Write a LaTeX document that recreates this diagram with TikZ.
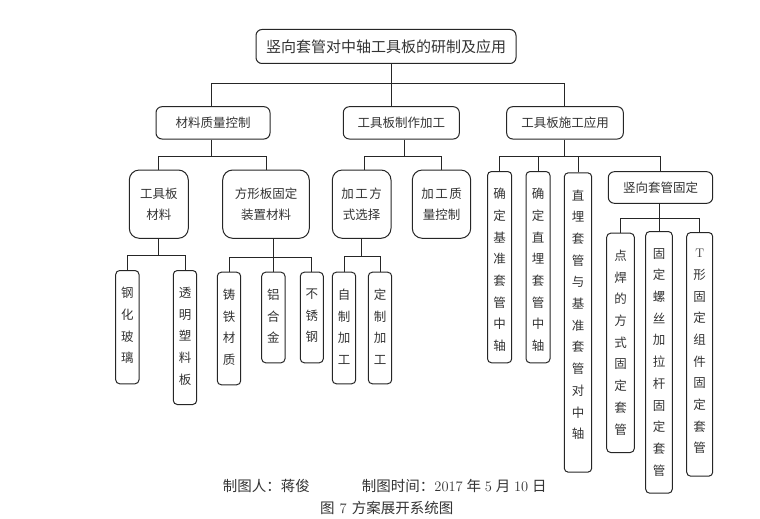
\documentclass[tikz,border=0pt]{standalone}
\usepackage{fontspec}
\newfontfamily\cjk{Noto Sans CJK SC}
\newcommand\capgap{\hspace{5pt}}
\newcommand\capgapb{\hspace{3.8pt}}
\begin{document}
\begin{tikzpicture}[x=1pt,y=-1pt,
  every node/.style={inner sep=0pt, text=black!80},
  sz/.style 2 args={minimum width=#1pt, minimum height=#2pt},
  box/.style={draw=black!85, line width=1pt, rounded corners=#1, align=center,
    font=\cjk\fontsize{12.5}{21}\selectfont},
  box/.default=6pt,
  link/.style={draw=black!85, line width=1pt},
  vbox/.style={draw=black!85, line width=1pt, rounded corners=4pt, anchor=north},
  vtext/.style={anchor=north, yshift=-17pt, align=center,
    font=\cjk\fontsize{12.5}{21.7}\selectfont},
  captxt/.style={anchor=west, font=\cjk\fontsize{14.5}{16}\selectfont}
]
\useasboundingbox (0,0) rectangle (760,519);

% title
\node[draw=black!85, line width=1pt, rounded corners=6pt, sz={260}{34}, font=\cjk\fontsize{15}{18}\selectfont] (T) at (386,46.5) {竖向套管对中轴工具板的研制及应用};

% level 2
\node[box, sz={114}{32.3}] (A) at (213,122.85) {材料质量控制};
\node[box, sz={116}{32.3}] (B) at (401.3,122.85) {工具板制作加工};
\node[box, sz={116.6}{32.3}] (C) at (565,122.85) {工具板施工应用};

% level 3
\node[box=10pt, sz={59}{68.3}] (A1) at (158.8,204.15) {工具板\\材料};
\node[box=10pt, sz={86.6}{68.3}] (A2) at (266,204.15) {方形板固定\\装置材料};
\node[box=10pt, sz={58.7}{68.3}] (B1) at (361.65,204.15) {加\hspace{1.5pt}工\hspace{1.5pt}方\\式选择};
\node[box=10pt, sz={58.4}{68.3}] (B2) at (441.5,204.15) {加\hspace{1.5pt}工\hspace{1.5pt}质\\量控制};

\node[vbox, sz={24.2}{191.3}] (C1) at (499.6,171) {};
\node[vtext] (C1t) at (C1.north) {确\\定\\基\\准\\套\\管\\中\\轴};
\node[vbox, sz={24}{191.3}] (C2) at (538,171) {};
\node[vtext] (C2t) at (C2.north) {确\\定\\直\\埋\\套\\管\\中\\轴};
\node[vbox, sz={27.4}{299.4}] (C3) at (578,172.3) {};
\node[vtext] (C3t) at (C3.north) {直\\埋\\套\\管\\与\\基\\准\\套\\管\\对\\中\\轴};
\node[box, sz={104.4}{31.6}] (C4) at (660.5,187.5) {竖向套管固定};

% level 4
\node[vbox, sz={23.3}{113.3}] (L1) at (127.35,270) {};
\node[vtext] (L1t) at (L1.north) {钢\\化\\玻\\璃};
\node[vbox, sz={23.4}{134}] (L2) at (185,270) {};
\node[vtext] (L2t) at (L2.north) {透\\明\\塑\\料\\板};
\node[vbox, sz={23.4}{112.6}] (L3) at (229,271.7) {};
\node[vtext] (L3t) at (L3.north) {铸\\铁\\材\\质};
\node[vbox, sz={23.3}{90.6}] (L4) at (273.35,271.7) {};
\node[vtext] (L4t) at (L4.north) {铝\\合\\金};
\node[vbox, sz={23}{90.6}] (L5) at (311.8,271.7) {};
\node[vtext] (L5t) at (L5.north) {不\\锈\\钢};
\node[vbox, sz={23.4}{111.6}] (L6) at (344,271.7) {};
\node[vtext] (L6t) at (L6.north) {自\\制\\加\\工};
\node[vbox, sz={23.4}{111.6}] (L7) at (380,271.7) {};
\node[vtext] (L7t) at (L7.north) {定\\制\\加\\工};
\node[vbox, sz={27.6}{219.3}] (L8) at (620.5,232.7) {};
\node[vtext] (L8t) at (L8.north) {点\\焊\\的\\方\\式\\固\\定\\套\\管};
\node[vbox, sz={26.6}{261.7}] (L9) at (659,231) {};
\node[vtext] (L9t) at (L9.north) {固\\定\\螺\\丝\\加\\拉\\杆\\固\\定\\套\\管};
\node[vbox, sz={26}{243.7}] (L10) at (699.7,232) {};
\node[vtext] (L10t) at (L10.north) {{\rmfamily T}\\形\\固\\定\\组\\件\\固\\定\\套\\管};

% buses and offset attachment points
\coordinate (bus0) at (0,83.3);
\coordinate (bus1) at (0,156);
\coordinate (bA1) at (0,255);
\coordinate (bA2) at (0,257.7);
\coordinate (bB1) at (0,256.7);
\coordinate (bC4) at (0,218.3);
\coordinate (Tp) at ([xshift=5pt]T.south);
\coordinate (An) at ([xshift=-2pt]A.north);
\coordinate (As) at ([xshift=-2pt]A.south);
\coordinate (Bs) at ([xshift=3pt]B.south);
\coordinate (Cn) at ([xshift=-1pt]C.north);
\coordinate (Cs) at ([xshift=-1pt]C.south);
\coordinate (B1n) at ([xshift=3.3pt]B1.north);

% connectors level 1-2
\draw[link] (Tp) -- (Tp |- B.north);
\draw[link] (An) |- (bus0 -| Cn) -- (Cn);

% level 2-3
\draw[link] (As) -- (As |- bus1);
\draw[link] (A1.north) |- (bus1 -| A2.north) -- (A2.north);
\draw[link] (Bs) -- (Bs |- bus1);
\draw[link] (B1n) |- (bus1 -| B2.north) -- (B2.north);
\draw[link] (Cs) -- (Cs |- bus1);
\draw[link] (C1.north) |- (bus1 -| C4.north) -- (C4.north);
\draw[link] (C2.north) -- (C2.north |- bus1);
\draw[link] (C3.north) -- (C3.north |- bus1);

% level 3-4
\draw[link] (A1.south) -- (A1.south |- bA1);
\draw[link] (L1.north) |- (bA1 -| L2.north) -- (L2.north);
\draw[link] (L4.north) -- (L4.north |- A2.south);
\draw[link] (L3.north) |- (bA2 -| L5.north) -- (L5.north);
\draw[link] (B1.south) -- (B1.south |- bB1);
\draw[link] (L6.north) |- (bB1 -| L7.north) -- (L7.north);
\draw[link] (L9.north) -- (L9.north |- C4.south);
\draw[link] (L8.north) |- (bC4 -| L10.north) -- (L10.north);

% captions
\node[captxt] (cap1) at (222.7,486.3) {制图人：蒋俊};
\node[captxt] (cap2) at (361.7,486.3) {制图时间：{\rmfamily 2017}\capgapb 年\capgapb{\rmfamily 5}\capgapb 月\capgapb{\rmfamily 10}\capgapb 日};
\node[captxt] (cap3) at (320,508) {图\capgap{\rmfamily 7}\capgap 方案展开系统图};
\end{tikzpicture}
\end{document}
